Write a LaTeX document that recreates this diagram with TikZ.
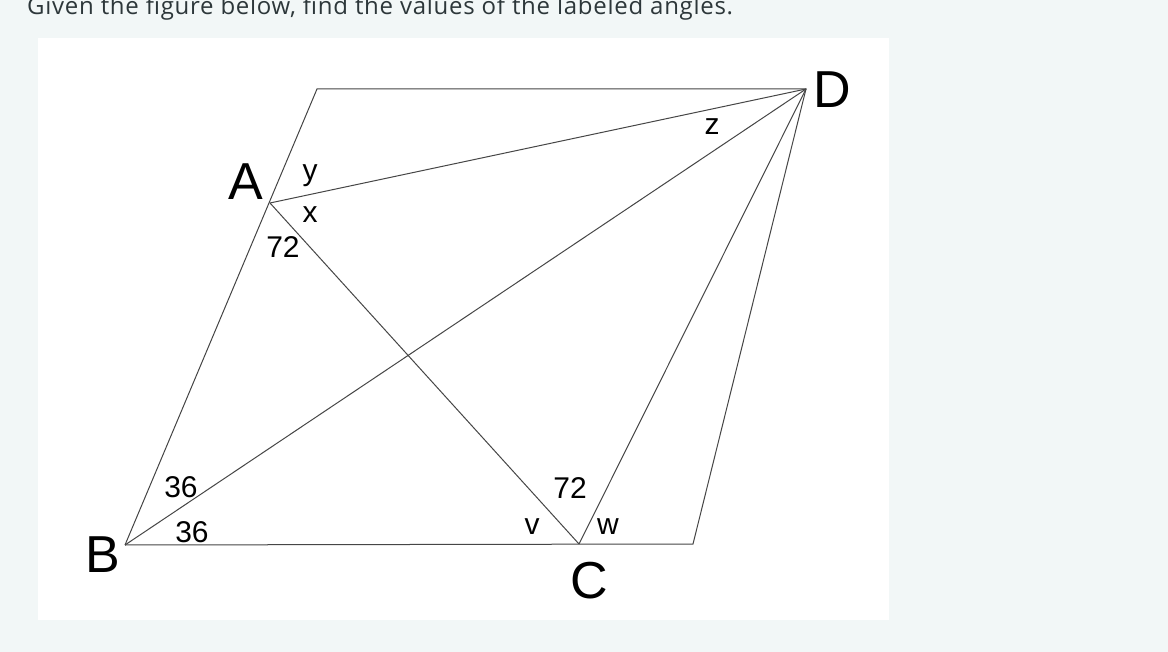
\documentclass[tikz,border=0pt]{standalone}
\usepackage{fontspec}
\setmainfont{Liberation Sans}
\newfontfamily\titlefont[LetterSpace=3]{Open Sans}
\definecolor{pagebg}{RGB}{242,247,247}
\definecolor{titlecol}{RGB}{45,55,58}
\definecolor{linecol}{RGB}{70,70,70}
\begin{document}
\begin{tikzpicture}[x=1pt,y=-1pt,
  edge/.style={draw=linecol,line width=1pt},
  biglab/.style={anchor=base,inner sep=0pt,font=\fontsize{52}{52}\selectfont},
  anglab/.style={anchor=base,inner sep=0pt,font=\fontsize{30}{30}\selectfont},
  titlelab/.style={anchor=base west,inner sep=0pt,text=titlecol,font=\titlefont\fontsize{24}{24}\selectfont}]
\useasboundingbox[fill=pagebg] (0,0) rectangle (1168,652);
\fill[white] (38,38) rectangle (889,620);
\node[titlelab] (title) at (27,15) {Given the figure below, find the values of the labeled angles.};
% vertices
\coordinate (B) at (125,545);
\coordinate (C) at (579,544);
\coordinate (Q) at (693,544);
\coordinate (D) at (806,89);
\coordinate (P) at (317,89);
\coordinate (A) at (270,203);
% outline
\draw[edge] (B) -- (Q) -- (D) -- (P) -- (B);
% diagonals
\draw[edge] (A) -- (D);
\draw[edge] (A) -- (C);
\draw[edge] (B) -- (D);
\draw[edge] (C) -- (D);
% point labels
\node[biglab] (lA) at (246,200) {A};
\node[biglab] (lB) at (103,572) {B};
\node[biglab] (lC) at (589,598) {C};
\node[biglab] (lD) at (832,108) {D};
% angle labels
\node[anglab] (ly) at (310,181) {y};
\node[anglab] (lx) at (310,223) {x};
\node[anglab] (l72a) at (283,258) {72};
\node[anglab] (lz) at (712,135) {z};
\node[anglab] (l36a) at (181,497) {36};
\node[anglab] (l36b) at (192,542) {36};
\node[anglab] (l72b) at (570,498) {72};
\node[anglab] (lv) at (532,534) {v};
\node[anglab] (lw) at (608,534) {w};
\end{tikzpicture}
\end{document}
